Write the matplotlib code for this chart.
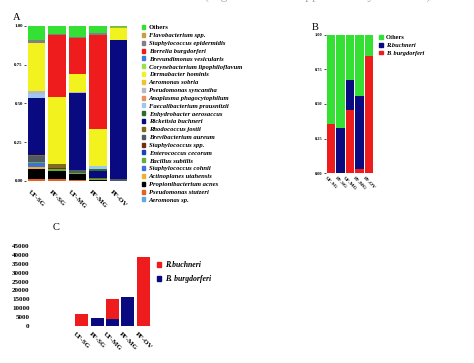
import matplotlib.pyplot as plt
import numpy as np
from matplotlib.patches import Patch

plt.rcParams['font.family'] = ['Liberation Serif', 'DejaVu Serif']

samples = ['UF-SG', 'PF-SG', 'UF-MG', 'PF-MG', 'PF-OV']

# panel A: taxa in legend order (top of stack first)
taxa = ['Others', 'Flavobacterium spp.', 'Staphylococcus epidermidis',
        'Borrelia burgdorferi', 'Brevundimonas vesicularis',
        'Corynebacterium lipophiloflavum', 'Dermabacter hominis',
        'Aeromonas sobria', 'Pseudomonas syncantha',
        'Anaplasma phagocytophilum', 'Faecalibacterium prausnitzii',
        'Enhydrobacter aerosaccus', 'Rickettsia buchneri', 'Rhodococcus jostii',
        'Brevibacterium aureum', 'Staphylococcus spp.', 'Enterococcus cecorum',
        'Bacillus subtilis', 'Staphylococcus cohnii', 'Actinoplanes utahensis',
        'Propionibacterium acnes', 'Pseudomonas stutzeri', 'Aeromonas sp.']
taxa_colors = ['#33e033', '#c8a040', '#808080', '#ee1c1c', '#3a7fd5',
               '#99e050', '#f2f21e', '#f0c030', '#b8b8c8', '#e89060',
               '#9ec8f0', '#2a6e2a', '#0a0a80', '#806a20', '#505a60',
               '#703010', '#1a40c0', '#60b040', '#4070e0', '#f0b030',
               '#000000', '#e86020', '#60a8e0']

# relative abundance per taxon (legend order), one value per sample
abund = {
    'Others':                          [0.091, 0.050, 0.068, 0.047, 0.006],
    'Flavobacterium spp.':             [0.000, 0.000, 0.000, 0.000, 0.004],
    'Staphylococcus epidermidis':      [0.020, 0.010, 0.012, 0.008, 0.000],
    'Borrelia burgdorferi':            [0.000, 0.400, 0.230, 0.610, 0.000],
    'Brevundimonas vesicularis':       [0.000, 0.000, 0.000, 0.000, 0.000],
    'Corynebacterium lipophiloflavum': [0.000, 0.000, 0.000, 0.000, 0.000],
    'Dermabacter hominis':             [0.310, 0.430, 0.113, 0.239, 0.080],
    'Aeromonas sobria':                [0.000, 0.000, 0.000, 0.000, 0.000],
    'Pseudomonas syncantha':           [0.020, 0.000, 0.012, 0.000, 0.000],
    'Anaplasma phagocytophilum':       [0.000, 0.000, 0.000, 0.000, 0.000],
    'Faecalibacterium prausnitzii':    [0.025, 0.000, 0.000, 0.016, 0.000],
    'Enhydrobacter aerosaccus':        [0.000, 0.000, 0.000, 0.015, 0.000],
    'Rickettsia buchneri':             [0.366, 0.000, 0.497, 0.043, 0.898],
    'Rhodococcus jostii':              [0.005, 0.025, 0.000, 0.008, 0.000],
    'Brevibacterium aureum':           [0.040, 0.000, 0.015, 0.000, 0.012],
    'Staphylococcus spp.':             [0.000, 0.010, 0.000, 0.000, 0.000],
    'Enterococcus cecorum':            [0.000, 0.000, 0.000, 0.000, 0.000],
    'Bacillus subtilis':               [0.008, 0.010, 0.005, 0.006, 0.000],
    'Staphylococcus cohnii':           [0.025, 0.000, 0.000, 0.000, 0.000],
    'Actinoplanes utahensis':          [0.010, 0.000, 0.000, 0.000, 0.000],
    'Propionibacterium acnes':         [0.070, 0.050, 0.040, 0.008, 0.000],
    'Pseudomonas stutzeri':            [0.007, 0.015, 0.008, 0.000, 0.000],
    'Aeromonas sp.':                   [0.003, 0.000, 0.000, 0.000, 0.000],
}

# panel B
b_burg = [0.356, 0.000, 0.460, 0.030, 0.849]
b_buch = [0.000, 0.330, 0.213, 0.528, 0.000]
b_others = [0.644, 0.670, 0.327, 0.442, 0.151]

# panel C (read counts)
c_buch = [7000, 0, 15000, 0, 38700]
c_burg = [0, 4700, 3700, 16500, 0]

fig = plt.figure(figsize=(4.74, 3.63), dpi=100)
x = np.arange(len(samples))


def style_axis(ax, fs, pad):
    for s in ax.spines.values():
        s.set_visible(False)
    ax.tick_params(axis='x', length=0, pad=pad)
    ax.set_xticks(x)
    ax.set_xticklabels(samples, rotation=-45, ha='center', fontsize=fs, fontweight='bold')
    ax.set_xlim(-0.5, 4.5)


# --- A ---
axA = fig.add_axes([0.0554, 0.5014, 0.2162, 0.427])
bottom = np.zeros(len(samples))
for name, col in zip(taxa[::-1], taxa_colors[::-1]):
    vals = np.array(abund[name])
    axA.bar(x, vals, 0.85, bottom=bottom, color=col, linewidth=0)
    bottom += vals
style_axis(axA, 5, 6)
axA.set_ylim(0, 1)
axA.set_yticks([0, 0.25, 0.5, 0.75, 1.0])
axA.set_yticklabels(['0.00', '0.25', '0.50', '0.75', '1.00'], fontsize=3.5, fontweight='bold')
axA.tick_params(axis='y', length=1.5, width=0.5, pad=1)

handles = [Patch(color=c) for c in taxa_colors]
legA = fig.legend(handles, taxa, loc='upper left', bbox_to_anchor=(0.292, 0.94),
                  frameon=False, fontsize=4.8, handlelength=0.55, handleheight=0.55,
                  handletextpad=0.5, labelspacing=0.37, borderpad=0)
for i, t in enumerate(legA.get_texts()):
    t.set_fontweight('bold')
    if i > 0:
        t.set_fontstyle('italic')
fig.text(0.027, 0.945, 'A', fontsize=7.5)

# --- B ---
axB = fig.add_axes([0.6882, 0.5226, 0.1004, 0.3818])
axB.bar(x, b_burg, 0.88, color='#ee1c1c', linewidth=0)
axB.bar(x, b_buch, 0.88, bottom=b_burg, color='#0a0a80', linewidth=0)
axB.bar(x, b_others, 0.88, bottom=np.add(b_burg, b_buch), color='#33e033', linewidth=0)
style_axis(axB, 3.8, 2)
axB.set_ylim(0, 1)
axB.set_yticks([0, 0.25, 0.5, 0.75, 1.0])
axB.set_yticklabels(['0.00', '0.25', '0.50', '0.75', '1.00'], fontsize=3.2, fontweight='bold')
axB.tick_params(axis='y', length=1.5, width=0.5, pad=1)
legB = axB.legend([Patch(color='#33e033'), Patch(color='#0a0a80'), Patch(color='#ee1c1c')],
                  ['Others', 'R.buchneri', 'B. burgdorferi'], loc='upper left',
                  bbox_to_anchor=(1.05, 1.02), frameon=False, fontsize=4.6,
                  handlelength=0.55, handleheight=0.55, handletextpad=0.5,
                  labelspacing=0.4, borderpad=0)
for i, t in enumerate(legB.get_texts()):
    t.set_fontweight('bold')
    if i > 0:
        t.set_fontstyle('italic')
fig.text(0.658, 0.917, 'B', fontsize=7.5)

# --- C ---
axC = fig.add_axes([0.1561, 0.1019, 0.1624, 0.2204])
axC.bar(x, c_buch, 0.85, color='#ee1c1c', linewidth=0)
axC.bar(x, c_burg, 0.85, color='#0a0a80', linewidth=0)
style_axis(axC, 5, 4)
axC.set_ylim(0, 45000)
axC.set_yticks(np.arange(0, 45001, 5000))
axC.set_yticklabels([str(v) for v in range(0, 45001, 5000)], fontsize=5, fontweight='bold')
axC.tick_params(axis='y', length=0, pad=32)
legC = axC.legend([Patch(color='#ee1c1c'), Patch(color='#0a0a80')],
                  ['R.buchneri', 'B. burgdorferi'], loc='upper left',
                  bbox_to_anchor=(1.03, 0.86), frameon=False, fontsize=5.6,
                  handlelength=0.55, handleheight=0.55, handletextpad=0.5,
                  labelspacing=0.8, borderpad=0)
for t in legC.get_texts():
    t.set_fontweight('bold')
    t.set_fontstyle('italic')
fig.text(0.11, 0.366, 'C', fontsize=7.5)

# caption text cut off at the top of the crop
fig.text(0.485, 1.012, 'the main bacterial communities (Figure S1 and Supplementary Table S1).',
         fontsize=10, color='#b0b0b0', ha='center', va='center')

fig.savefig('out.png', dpi=100)
